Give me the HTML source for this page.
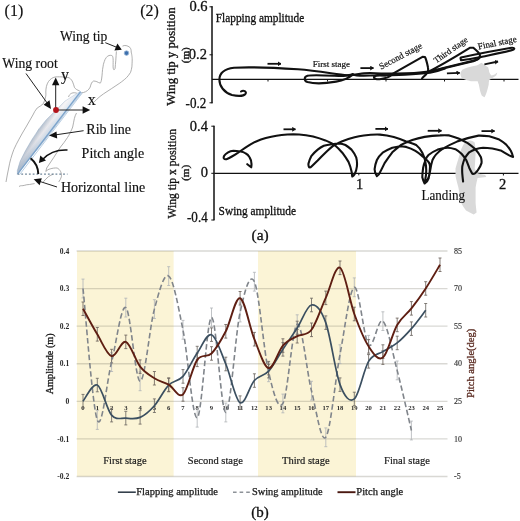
<!DOCTYPE html>
<html><head><meta charset="utf-8"><title>Figure</title>
<style>
html,body{margin:0;padding:0;background:#fff;overflow:hidden;}
svg{display:block;}
text{font-family:"Liberation Serif","Times New Roman",serif;fill:#222;}
.tk{font-size:7.6px;fill:#2a2a2a;font-weight:bold;}
.tkr{font-size:8px;fill:#333;stroke:#333;stroke-width:0.15px;}
.xt{font-size:6.6px;fill:#2a2a2a;font-weight:bold;}
.st{font-size:10.5px;fill:#1a1a1a;stroke:#1a1a1a;stroke-width:0.2px;}
.at{font-size:10.4px;fill:#1a1a1a;stroke:#1a1a1a;stroke-width:0.3px;}
.lg{font-size:9.3px;fill:#1a1a1a;stroke:#1a1a1a;stroke-width:0.25px;}
.cap{font-size:15px;fill:#111;stroke:#111;stroke-width:0.3px;}
.p1{font-size:14px;fill:#111;stroke:#111;stroke-width:0.15px;}
.p2{font-size:12px;fill:#111;stroke:#111;stroke-width:0.3px;}
.p3{font-size:14.5px;fill:#111;stroke:#111;stroke-width:0.3px;}
.sm{font-size:9px;fill:#111;stroke:#111;stroke-width:0.2px;}
</style></head><body>
<svg width="520" height="521" viewBox="0 0 520 521">
<rect width="520" height="521" fill="#fff"/>
<rect x="77" y="251" width="96.6" height="225.5" fill="#fbf4d6"/>
<rect x="258" y="251" width="98" height="225.5" fill="#fbf4d6"/>
<line x1="76.6" x2="447.5" y1="251.00" y2="251.00" stroke="rgba(120,115,100,0.28)" stroke-width="1.3"/>
<line x1="76.6" x2="447.5" y1="288.58" y2="288.58" stroke="rgba(120,115,100,0.28)" stroke-width="1.3"/>
<line x1="76.6" x2="447.5" y1="326.16" y2="326.16" stroke="rgba(120,115,100,0.28)" stroke-width="1.3"/>
<line x1="76.6" x2="447.5" y1="363.74" y2="363.74" stroke="rgba(120,115,100,0.28)" stroke-width="1.3"/>
<line x1="76.6" x2="447.5" y1="401.32" y2="401.32" stroke="rgba(120,115,100,0.28)" stroke-width="1.3"/>
<line x1="76.6" x2="447.5" y1="438.90" y2="438.90" stroke="rgba(120,115,100,0.28)" stroke-width="1.3"/>
<line x1="76.6" x2="447.5" y1="476.48" y2="476.48" stroke="rgba(120,115,100,0.28)" stroke-width="1.3"/>
<text x="69.3" y="253.60" text-anchor="end" class="tk">0.4</text>
<text x="69.3" y="291.18" text-anchor="end" class="tk">0.3</text>
<text x="69.3" y="328.76" text-anchor="end" class="tk">0.2</text>
<text x="69.3" y="366.34" text-anchor="end" class="tk">0.1</text>
<text x="69.3" y="403.92" text-anchor="end" class="tk">0</text>
<text x="69.3" y="441.50" text-anchor="end" class="tk">-0.1</text>
<text x="69.3" y="479.08" text-anchor="end" class="tk">-0.2</text>
<text x="454" y="253.60" class="tkr">85</text>
<text x="454" y="291.18" class="tkr">70</text>
<text x="454" y="328.76" class="tkr">55</text>
<text x="454" y="366.34" class="tkr">40</text>
<text x="454" y="403.92" class="tkr">25</text>
<text x="454" y="441.50" class="tkr">10</text>
<text x="454" y="479.08" class="tkr">-5</text>
<text x="83.00" y="410.3" text-anchor="middle" class="xt">0</text>
<text x="97.28" y="410.3" text-anchor="middle" class="xt">1</text>
<text x="111.56" y="410.3" text-anchor="middle" class="xt">2</text>
<text x="125.84" y="410.3" text-anchor="middle" class="xt">3</text>
<text x="140.12" y="410.3" text-anchor="middle" class="xt">4</text>
<text x="154.40" y="410.3" text-anchor="middle" class="xt">5</text>
<text x="168.68" y="410.3" text-anchor="middle" class="xt">6</text>
<text x="182.96" y="410.3" text-anchor="middle" class="xt">7</text>
<text x="197.24" y="410.3" text-anchor="middle" class="xt">8</text>
<text x="211.52" y="410.3" text-anchor="middle" class="xt">9</text>
<text x="225.80" y="410.3" text-anchor="middle" class="xt">10</text>
<text x="240.08" y="410.3" text-anchor="middle" class="xt">11</text>
<text x="254.36" y="410.3" text-anchor="middle" class="xt">12</text>
<text x="268.64" y="410.3" text-anchor="middle" class="xt">13</text>
<text x="282.92" y="410.3" text-anchor="middle" class="xt">14</text>
<text x="297.20" y="410.3" text-anchor="middle" class="xt">15</text>
<text x="311.48" y="410.3" text-anchor="middle" class="xt">16</text>
<text x="325.76" y="410.3" text-anchor="middle" class="xt">17</text>
<text x="340.04" y="410.3" text-anchor="middle" class="xt">18</text>
<text x="354.32" y="410.3" text-anchor="middle" class="xt">19</text>
<text x="368.60" y="410.3" text-anchor="middle" class="xt">20</text>
<text x="382.88" y="410.3" text-anchor="middle" class="xt">21</text>
<text x="397.16" y="410.3" text-anchor="middle" class="xt">22</text>
<text x="411.44" y="410.3" text-anchor="middle" class="xt">23</text>
<text x="425.72" y="410.3" text-anchor="middle" class="xt">24</text>
<text x="440.00" y="410.3" text-anchor="middle" class="xt">25</text>
<text x="124.9" y="464" text-anchor="middle" class="st">First stage</text>
<text x="215.4" y="464" text-anchor="middle" class="st">Second stage</text>
<text x="305.8" y="464" text-anchor="middle" class="st">Third stage</text>
<text x="407" y="464" text-anchor="middle" class="st">Final stage</text>
<g stroke="#b0b4b8" stroke-width="0.80" fill="none"><path d="M83.0,279.1V297.9M81.5,279.1h3M81.5,297.9h3"/><path d="M97.3,410.6V429.4M95.8,410.6h3M95.8,429.4h3"/><path d="M111.6,352.7V371.5M110.1,352.7h3M110.1,371.5h3"/><path d="M125.8,298.2V317.0M124.3,298.2h3M124.3,317.0h3"/><path d="M140.1,371.9V390.7M138.6,371.9h3M138.6,390.7h3"/><path d="M154.4,299.7V318.5M152.9,299.7h3M152.9,318.5h3"/><path d="M168.7,266.7V285.5M167.2,266.7h3M167.2,285.5h3"/><path d="M183.0,320.4V339.2M181.5,320.4h3M181.5,339.2h3"/><path d="M197.2,408.3V427.1M195.7,408.3h3M195.7,427.1h3"/><path d="M211.5,308.0V326.8M210.0,308.0h3M210.0,326.8h3"/><path d="M225.8,403.1V421.9M224.3,403.1h3M224.3,421.9h3"/><path d="M240.1,303.1V321.9M238.6,303.1h3M238.6,321.9h3"/><path d="M254.4,272.3V291.1M252.9,272.3h3M252.9,291.1h3"/><path d="M268.6,362.9V381.7M267.1,362.9h3M267.1,381.7h3"/><path d="M282.9,394.1V412.8M281.4,394.1h3M281.4,412.8h3"/><path d="M297.2,314.8V333.6M295.7,314.8h3M295.7,333.6h3"/><path d="M311.5,381.3V400.1M310.0,381.3h3M310.0,400.1h3"/><path d="M325.8,427.9V446.7M324.3,427.9h3M324.3,446.7h3"/><path d="M340.0,344.8V363.6M338.5,344.8h3M338.5,363.6h3"/><path d="M354.3,277.9V296.7M352.8,277.9h3M352.8,296.7h3"/><path d="M368.6,335.4V354.2M367.1,335.4h3M367.1,354.2h3"/><path d="M382.9,311.8V330.5M381.4,311.8h3M381.4,330.5h3"/><path d="M397.2,361.0V379.8M395.7,361.0h3M395.7,379.8h3"/><path d="M411.4,421.1V439.9M409.9,421.1h3M409.9,439.9h3"/></g>
<g stroke="#6f6a64" stroke-width="0.85" fill="none"><path d="M83.0,394.4V408.0M81.5,394.4h3M81.5,408.0h3"/><path d="M97.3,378.3V391.8M95.8,378.3h3M95.8,391.8h3"/><path d="M111.6,408.3V421.9M110.1,408.3h3M110.1,421.9h3"/><path d="M125.8,411.3V424.9M124.3,411.3h3M124.3,424.9h3"/><path d="M140.1,410.6V424.1M138.6,410.6h3M138.6,424.1h3"/><path d="M154.4,398.9V412.5M152.9,398.9h3M152.9,412.5h3"/><path d="M168.7,378.3V391.8M167.2,378.3h3M167.2,391.8h3"/><path d="M183.0,369.6V383.2M181.5,369.6h3M181.5,383.2h3"/><path d="M197.2,346.3V359.9M195.7,346.3h3M195.7,359.9h3"/><path d="M211.5,327.9V341.4M210.0,327.9h3M210.0,341.4h3"/><path d="M225.8,357.2V370.8M224.3,357.2h3M224.3,370.8h3"/><path d="M240.1,395.9V409.5M238.6,395.9h3M238.6,409.5h3"/><path d="M254.4,373.8V387.3M252.9,373.8h3M252.9,387.3h3"/><path d="M268.6,364.4V377.9M267.1,364.4h3M267.1,377.9h3"/><path d="M282.9,342.6V356.1M281.4,342.6h3M281.4,356.1h3"/><path d="M297.2,321.2V334.7M295.7,321.2h3M295.7,334.7h3"/><path d="M311.5,298.2V311.8M310.0,298.2h3M310.0,311.8h3"/><path d="M325.8,315.9V329.4M324.3,315.9h3M324.3,329.4h3"/><path d="M340.0,377.9V391.4M338.5,377.9h3M338.5,391.4h3"/><path d="M354.3,392.2V405.7M352.8,392.2h3M352.8,405.7h3"/><path d="M368.6,354.6V368.1M367.1,354.6h3M367.1,368.1h3"/><path d="M382.9,344.8V358.4M381.4,344.8h3M381.4,358.4h3"/><path d="M397.2,336.2V349.7M395.7,336.2h3M395.7,349.7h3"/><path d="M411.4,321.9V335.4M409.9,321.9h3M409.9,335.4h3"/><path d="M425.7,303.5V317.0M424.2,303.5h3M424.2,317.0h3"/></g>
<g stroke="#6f665e" stroke-width="0.85" fill="none"><path d="M83.0,302.0V315.5M81.5,302.0h3M81.5,315.5h3"/><path d="M97.3,327.5V341.1M95.8,327.5h3M95.8,341.1h3"/><path d="M111.6,349.3V362.9M110.1,349.3h3M110.1,362.9h3"/><path d="M125.8,335.1V348.6M124.3,335.1h3M124.3,348.6h3"/><path d="M140.1,359.9V373.4M138.6,359.9h3M138.6,373.4h3"/><path d="M154.4,371.5V385.0M152.9,371.5h3M152.9,385.0h3"/><path d="M168.7,377.9V391.4M167.2,377.9h3M167.2,391.4h3"/><path d="M183.0,387.7V401.2M181.5,387.7h3M181.5,401.2h3"/><path d="M197.2,353.1V366.6M195.7,353.1h3M195.7,366.6h3"/><path d="M211.5,346.7V360.2M210.0,346.7h3M210.0,360.2h3"/><path d="M225.8,324.5V338.1M224.3,324.5h3M224.3,338.1h3"/><path d="M240.1,291.5V305.0M238.6,291.5h3M238.6,305.0h3"/><path d="M254.4,332.4V346.0M252.9,332.4h3M252.9,346.0h3"/><path d="M268.6,361.4V374.9M267.1,361.4h3M267.1,374.9h3"/><path d="M282.9,338.8V352.3M281.4,338.8h3M281.4,352.3h3"/><path d="M297.2,329.4V343.0M295.7,329.4h3M295.7,343.0h3"/><path d="M311.5,323.0V336.6M310.0,323.0h3M310.0,336.6h3"/><path d="M325.8,291.1V304.6M324.3,291.1h3M324.3,304.6h3"/><path d="M340.0,261.0V274.6M338.5,261.0h3M338.5,274.6h3"/><path d="M354.3,307.2V320.8M352.8,307.2h3M352.8,320.8h3"/><path d="M368.6,339.6V353.1M367.1,339.6h3M367.1,353.1h3"/><path d="M382.9,350.8V364.4M381.4,350.8h3M381.4,364.4h3"/><path d="M397.2,318.1V331.7M395.7,318.1h3M395.7,331.7h3"/><path d="M411.4,301.6V315.1M409.9,301.6h3M409.9,315.1h3"/><path d="M425.7,281.7V295.2M424.2,281.7h3M424.2,295.2h3"/><path d="M440.0,258.0V271.5M438.5,258.0h3M438.5,271.5h3"/></g>
<path d="M83.00,288.46 C85.38,310.38 92.52,407.71 97.28,419.99 C102.04,432.27 106.80,380.84 111.56,362.12 C116.32,343.39 121.08,304.43 125.84,307.63 C130.60,310.82 135.36,381.03 140.12,381.28 C144.88,381.53 149.64,326.67 154.40,309.13 C159.16,291.59 163.92,272.61 168.68,276.06 C173.44,279.50 178.20,306.19 182.96,329.80 C187.72,353.41 192.48,419.80 197.24,417.74 C202.00,415.67 206.76,318.27 211.52,317.40 C216.28,316.52 221.04,413.29 225.80,412.47 C230.56,411.66 235.32,334.31 240.08,312.51 C244.84,290.71 249.60,271.74 254.36,281.70 C259.12,291.65 263.88,351.97 268.64,372.26 C273.40,392.56 278.16,411.47 282.92,403.45 C287.68,395.44 292.44,326.29 297.20,324.16 C301.96,322.03 306.72,371.82 311.48,390.68 C316.24,409.53 321.00,443.35 325.76,437.28 C330.52,431.20 335.28,379.22 340.04,354.22 C344.80,329.23 349.56,288.90 354.32,287.33 C359.08,285.77 363.84,339.19 368.60,344.83 C373.36,350.47 378.12,316.90 382.88,321.15 C387.64,325.41 392.40,352.16 397.16,370.38 C401.92,388.61 409.06,420.49 411.44,430.51" fill="none" stroke="#80858b" stroke-width="1.6" stroke-dasharray="5.5,2.8"/>
<path d="M83.00,401.20 C85.38,398.51 92.52,382.72 97.28,385.04 C102.04,387.36 106.80,409.59 111.56,415.10 C116.32,420.62 121.08,417.74 125.84,418.11 C130.60,418.49 135.36,419.43 140.12,417.36 C144.88,415.29 149.64,411.10 154.40,405.71 C159.16,400.32 163.92,389.93 168.68,385.04 C173.44,380.16 178.20,381.72 182.96,376.40 C187.72,371.07 192.48,360.05 197.24,353.10 C202.00,346.15 206.76,332.87 211.52,334.68 C216.28,336.50 221.04,352.66 225.80,364.00 C230.56,375.33 235.32,399.95 240.08,402.70 C244.84,405.46 249.60,385.79 254.36,380.53 C259.12,375.27 263.88,376.33 268.64,371.14 C273.40,365.94 278.16,356.54 282.92,349.34 C287.68,342.14 292.44,335.31 297.20,327.92 C301.96,320.53 306.72,305.87 311.48,305.00 C316.24,304.12 321.00,309.38 325.76,322.66 C330.52,335.94 335.28,371.95 340.04,384.66 C344.80,397.38 349.56,402.83 354.32,398.95 C359.08,395.06 363.84,369.26 368.60,361.37 C373.36,353.47 378.12,354.66 382.88,351.59 C387.64,348.53 392.40,346.77 397.16,342.95 C401.92,339.13 406.68,334.12 411.44,328.67 C416.20,323.22 423.34,313.33 425.72,310.26" fill="none" stroke="#3b4f60" stroke-width="1.7"/>
<path d="M83.00,308.75 C85.38,313.01 92.52,326.42 97.28,334.31 C102.04,342.20 106.80,354.85 111.56,356.10 C116.32,357.36 121.08,340.07 125.84,341.82 C130.60,343.58 135.36,360.55 140.12,366.63 C144.88,372.70 149.64,375.27 154.40,378.28 C159.16,381.28 163.92,381.97 168.68,384.66 C173.44,387.36 178.20,398.57 182.96,394.44 C187.72,390.30 192.48,366.69 197.24,359.86 C202.00,353.03 206.76,358.23 211.52,353.47 C216.28,348.71 221.04,340.51 225.80,331.30 C230.56,322.09 235.32,296.92 240.08,298.23 C244.84,299.55 249.60,327.54 254.36,339.19 C259.12,350.84 263.88,367.06 268.64,368.13 C273.40,369.19 278.16,350.91 282.92,345.58 C287.68,340.26 292.44,338.82 297.20,336.19 C301.96,333.56 306.72,336.19 311.48,329.80 C316.24,323.41 321.00,308.19 325.76,297.85 C330.52,287.52 335.28,265.10 340.04,267.79 C344.80,270.48 349.56,300.92 354.32,314.01 C359.08,327.10 363.84,339.07 368.60,346.33 C373.36,353.60 378.12,361.18 382.88,357.61 C387.64,354.04 392.40,333.12 397.16,324.91 C401.92,316.71 406.68,314.45 411.44,308.38 C416.20,302.30 420.96,295.73 425.72,288.46 C430.48,281.19 437.62,268.73 440.00,264.78" fill="none" stroke="#5e1e12" stroke-width="1.9"/>
<text transform="translate(52.6,363.8) rotate(-90)" text-anchor="middle" class="at" textLength="61" lengthAdjust="spacingAndGlyphs">Amplitude (m)</text>
<text transform="translate(474.3,363.3) rotate(-90)" text-anchor="middle" class="at" style="fill:#5a2a20;stroke:#5a2a20" textLength="69.2" lengthAdjust="spacingAndGlyphs">Pitch angle(deg)</text>
<line x1="117.9" x2="135.8" y1="492.2" y2="492.2" stroke="#34404c" stroke-width="1.6"/>
<text x="136.3" y="494.6" class="lg" textLength="81.7" lengthAdjust="spacingAndGlyphs">Flapping amplitude</text>
<line x1="233" x2="250" y1="492.2" y2="492.2" stroke="#8d9298" stroke-width="1.4" stroke-dasharray="3.6,3"/>
<text x="252" y="494.6" class="lg" textLength="70.5" lengthAdjust="spacingAndGlyphs">Swing amplitude</text>
<line x1="337.5" x2="355.5" y1="492.2" y2="492.2" stroke="#4a1810" stroke-width="1.9"/>
<text x="356.3" y="494.6" class="lg" textLength="47" lengthAdjust="spacingAndGlyphs">Pitch angle</text>
<text x="260" y="517" text-anchor="middle" class="cap">(b)</text>
<g id="p1">
<defs>
<linearGradient id="wg" x1="39.1" y1="128.7" x2="48.3" y2="135.7" gradientUnits="userSpaceOnUse">
<stop offset="0" stop-color="#b4c0ce"/>
<stop offset="0.45" stop-color="#f4f1f3"/>
<stop offset="0.8" stop-color="#d9e3ee"/>
<stop offset="1" stop-color="#a9c2dc"/>
</linearGradient>
<linearGradient id="wg2" x1="62" y1="108" x2="22" y2="168" gradientUnits="userSpaceOnUse">
<stop offset="0" stop-color="#ffffff" stop-opacity="0.25"/>
<stop offset="0.5" stop-color="#8a9cb2" stop-opacity="0.12"/>
<stop offset="1" stop-color="#7088a4" stop-opacity="0.45"/>
</linearGradient>
</defs>
<text x="4.6" y="15.9" class="p1" style="font-size:16px">(1)</text>
<!-- outline -->
<g fill="none" stroke="#9a9a9a" stroke-width="0.8">
<path d="M122.5,46.1 C124.5,45 127.5,45.4 129.9,47.4 C131,49 131.2,50 131.2,52.1 C132,55 132.2,58.8 132.2,58.8 C132.2,62 132,64.5 131.9,66.9 C131.5,69 131.2,70.5 130.6,72.3 C129.3,74.5 128,76 126.5,77.7 C124,80 122,81.5 119.8,83.1 C117,85 114.5,86.8 111.7,88.5 C109,90.2 106.3,92 103.6,93.8 C101,95.6 98.7,97.4 96.9,99.2 L94.2,101.9"/>
<path d="M116.4,51.4 C116.2,54 116,57 115.8,60.2 C115.5,63 115.4,66 115.1,68.3 C114.8,69.5 114,70 113.7,69.6 C113.2,68.8 113.1,67.5 113.1,66.9 C113.1,64 113.2,61 113.1,58.8 C112.9,56.8 112.5,55.6 111.7,55.5 C110.8,55.3 109.8,55.2 109,55.5 C107.8,56 106.8,56.6 106.3,57.5 C105.2,59 104.6,60.2 104.3,61.5 C103.5,63.5 103.2,65 103,66.9 C102.6,68.8 102.4,70.5 102.3,72.3 C102.1,75 101.9,77 101.6,79 C101.3,81 100.9,82.2 100.3,83.1 C99,83 98,82.2 96.9,81.7 C95.6,81.2 94.5,81 93.6,81 C92.6,81.5 92,82.2 91.5,83.1 C90.8,84.5 90.6,85.8 90.2,87.1 C89.4,88.7 88.5,89.7 87.5,90.5 C86.2,91.5 85,92.1 83.5,92.5 C82,92.8 80.8,92.7 79.4,92.5"/>
<path d="M45.8,92 C45.9,88 46.5,84.5 48.5,81.5 C50.3,79 52.5,77.6 55,77 C56.5,76.8 58,76.8 59.5,76.8 L62.3,76.9 C65,77 67.5,77.2 69.2,77.8 C71,79 72,80.5 72.7,82.1 C73.5,84 74,85.8 74.4,87.3 C75.5,89.2 77.5,90.2 79.6,90.8"/>
<path d="M45.8,92 C45.9,93.5 46,94.8 45.8,96 C45.2,98.8 44.5,101.3 43.3,103.7 C41.5,105.5 39.3,106.6 37.2,108 C35.5,110 34,112.5 32.9,115 C30.5,119 28.3,123 26,127 C23.5,131 21.3,135 19,139.2 C17.2,142.5 15.4,146 13.8,149.6 C11.6,155.5 9.8,161.5 8.7,168 C7.7,172.5 6.8,177.5 6,182"/>
<path d="M68.5,97 C69.5,93.5 73,91.6 77.5,93.5"/>
<path d="M76.5,113 C75.5,115 74.8,116.5 74.4,118.4 C73.8,121.5 73.2,124.2 72.7,127 C71.2,131 69.5,134.5 67.5,137.5 C65.5,140.8 63,143.8 60.5,147 C58.2,150.5 55.9,154.2 53.6,157.7 C51.3,161.2 49,164.6 46.7,168 L45.8,171.5"/>
<path d="M45.8,171.5 C47.2,170 48.7,169.2 50.2,168.9 C52.5,168.2 54.8,167.8 57.1,168 C58.6,168.6 59.8,170 60.6,171.5 C61.4,173.2 61.6,175 61.4,176.7 C60.8,178.6 60,180.3 58.8,181.9"/>
<path d="M43.3,181.9 C45,180 46.6,178.2 48.4,176.7 C50,175.5 51.8,174.7 53.6,174.1"/>
<path d="M19,186.5 C20.5,185.2 22.5,186 24.2,185.4 C26,184.8 27.6,184.5 29.4,184.5 C31.2,184.2 33,183.8 34.6,183.6"/>
<path d="M39.1,128.7 C36.5,134 34.2,139.5 31.9,145.1 C30.5,148 29,150.5 27.3,152.4" stroke="#aab4c0"/>
</g>
<!-- wing blade -->
<path d="M79.6,91.8 C74.5,95 69.5,98.2 64.6,101.4 C61.5,104.4 58.5,107.5 55.5,110.5 C52.5,113.5 49.4,116.6 46.4,119.6 C44,122.6 41.5,125.7 39.1,128.7 C36.7,132.3 34.3,136 31.9,139.6 C29.8,143.3 27.6,146.9 25.5,150.6 C23.6,154.2 21.8,157.9 20,161.5 C19,164.5 18.2,167.6 17.3,170.6 L17.3,174.3 C18.5,172.8 19.7,171.2 20.9,169.7 C23,167 25.2,164.2 27.3,161.5 C30,158.2 32.8,154.8 35.5,151.5 C38.5,147.9 41.6,144.2 44.6,140.6 C47.6,136.6 50.7,132.7 53.7,128.7 C56.7,124.8 59.8,120.8 62.8,116.9 C65.8,112.9 68.9,109 71.9,105 C75.3,101 78.6,97 82,93.2 C81.5,92.4 80.6,91.8 79.6,91.8 Z" fill="url(#wg)" stroke="#a9bdd2" stroke-width="0.5"/>
<path d="M79.6,91.8 C74.5,95 69.5,98.2 64.6,101.4 C61.5,104.4 58.5,107.5 55.5,110.5 C52.5,113.5 49.4,116.6 46.4,119.6 C44,122.6 41.5,125.7 39.1,128.7 C36.7,132.3 34.3,136 31.9,139.6 C29.8,143.3 27.6,146.9 25.5,150.6 C23.6,154.2 21.8,157.9 20,161.5 C19,164.5 18.2,167.6 17.3,170.6 L17.3,174.3 C18.5,172.8 19.7,171.2 20.9,169.7 C23,167 25.2,164.2 27.3,161.5 C30,158.2 32.8,154.8 35.5,151.5 C38.5,147.9 41.6,144.2 44.6,140.6 C47.6,136.6 50.7,132.7 53.7,128.7 C56.7,124.8 59.8,120.8 62.8,116.9 C65.8,112.9 68.9,109 71.9,105 C75.3,101 78.6,97 82,93.2 C81.5,92.4 80.6,91.8 79.6,91.8 Z" fill="url(#wg2)"/>
<line x1="82.4" y1="92.8" x2="19.6" y2="174.6" stroke="#b9cfe4" stroke-width="1"/>
<line x1="80.6" y1="91.6" x2="17.8" y2="173.8" stroke="#79a2cb" stroke-width="1.2"/>
<!-- dotted horizontal -->
<line x1="17.5" y1="174.2" x2="67.5" y2="174.2" stroke="#6d8498" stroke-width="1.2" stroke-dasharray="1.8,2"/>
<!-- pitch arc -->
<path d="M30.6,158.2 A21,21 0 0 1 38.3,174" fill="none" stroke="#111" stroke-width="2"/>
<!-- axes arrows -->
<g stroke="#222" stroke-width="1">
<line x1="55.7" y1="110" x2="55.7" y2="84"/>
<line x1="55.7" y1="110" x2="83" y2="110"/>
<line x1="26" y1="73.5" x2="47.5" y2="103.5"/>
<line x1="105.3" y1="42.7" x2="116" y2="47"/>
<line x1="83.6" y1="130.7" x2="56" y2="134.8"/>
<line x1="57" y1="187" x2="40" y2="181.5"/>
</g>
<g fill="#111">
<path d="M55.7,77.6 L59.4,85.2 L52,85.2 Z"/>
<path d="M90.2,110 L82.6,113.7 L82.6,106.3 Z"/>
<path d="M51,109 L43.6,104.8 L49.5,100.3 Z"/>
<path d="M121.8,49.7 L114.4,50.6 L117.4,43.6 Z"/>
<path d="M49,135.6 L56.5,131.4 L57.2,138.6 Z"/>
<path d="M33.7,179.3 L41.8,178.2 L39.6,185.2 Z"/>
</g>
<path d="M67.5,150 C58,149.5 49,152.5 42.5,159.5" fill="none" stroke="#111" stroke-width="1.6"/>
<path d="M38.9,162.9 L40.3,155.6 L46,160.4 Z" fill="#111"/>
<circle cx="56" cy="110" r="2.9" fill="#b3141b"/>
<circle cx="126.5" cy="53.1" r="2.3" fill="#3e70ad" stroke="#9cb9d8" stroke-width="0.8"/>
<text x="60" y="41.3" class="p1" textLength="47.3" lengthAdjust="spacingAndGlyphs">Wing tip</text>
<text x="2.3" y="67.8" class="p1" textLength="55.4" lengthAdjust="spacingAndGlyphs">Wing root</text>
<text x="61" y="80.2" class="p1" style="font-size:16px">y</text>
<text x="87.8" y="105.4" class="p1" style="font-size:16px">x</text>
<text x="86.3" y="133.5" class="p1">Rib line</text>
<text x="81.6" y="158.3" class="p1">Pitch angle</text>
<text x="60.9" y="191.5" class="p1">Horizontal line</text>
</g>

<g id="p2">
<defs>
<marker id="ah" viewBox="0 0 10 10" refX="9" refY="5" markerWidth="3.6" markerHeight="5" orient="auto" markerUnits="userSpaceOnUse" preserveAspectRatio="none">
<path d="M0,0 L10,5 L0,10 Z" fill="#111"/>
</marker>
</defs>
<text x="140.2" y="15.9" class="p1" style="font-size:16px">(2)</text>
<!-- top plot axes -->
<g stroke="#111" stroke-width="1" fill="none">
<line x1="212" y1="6.3" x2="212" y2="103.3" stroke-width="1.5"/>
<line x1="209.5" y1="6.8" x2="212.5" y2="6.8"/>
<line x1="209.5" y1="54.8" x2="212.5" y2="54.8"/>
<line x1="209.5" y1="102.8" x2="212.5" y2="102.8"/>
<line x1="212" y1="79.4" x2="518.5" y2="79.4" stroke-width="1.15"/>
<path d="M268,79v2.5M327.5,79v2.5M386,79v2.5M444.5,79v2.5M504,79v2.5"/>
</g>
<text x="207.6" y="11.3" text-anchor="end" class="p3">0.6</text>
<text x="206.9" y="59.2" text-anchor="end" class="p3">0.2</text>
<text x="206.3" y="107.8" text-anchor="end" class="p3" textLength="20.7" lengthAdjust="spacingAndGlyphs">-0.2</text>
<text transform="translate(175.3,56.6) rotate(-90)" text-anchor="middle" class="p2" textLength="98.5" lengthAdjust="spacingAndGlyphs">Wing tip y position</text>
<text transform="translate(188.7,55.2) rotate(-90)" text-anchor="middle" class="p2" style="font-size:11px">(m)</text>
<text x="215.8" y="22.4" class="p2" style="font-size:12.8px" textLength="88.4" lengthAdjust="spacingAndGlyphs">Flapping amplitude</text>
<text x="312.7" y="67" class="sm">First stage</text>
<text transform="translate(381,69.8) rotate(-28)" class="sm">Second stage</text>
<text transform="translate(436.2,63.6) rotate(-35)" class="sm" style="font-size:8.7px">Third stage</text>
<text transform="translate(478.6,49.6) rotate(-11.5)" class="sm">Final stage</text>
<!-- top curves -->
<g fill="none" stroke="#111" stroke-width="2.1" stroke-linejoin="round" stroke-linecap="round">
<path d="M241,91.5 C243.5,89.8 247,91.5 245.5,93.8 C243.5,96.3 237,96.2 232,95 C224,92.5 219.3,86 219.4,79.5 C219.5,73 224,68.9 234,67.7 C250,66.8 272,67.6 298,69.3 C318,70.8 337,74.4 347,75.2 C354,75.6 358,74 364,73.2 C370,72.8 375,73 381,73.5 C392,74 405,73.2 414,73 C420,72.9 425,72 429,71.5"/>
<path d="M353,74 C349,76.3 341,76 333.5,75.8 C323,75.3 312,74.8 307.5,75.8 C303.8,77 303.8,80.8 307.5,82 C314,83.8 327,83.2 336,81.6 C344,80.2 349,78 353,74.5 C356,76 362,75.8 370,75.5 C380,75.3 395,75 405,74.6 C415,74.2 422,73.8 430,72.8 C436,71.8 441,70 445,68.5"/>
<path d="M385,75.5 C380,74.5 375.5,75 374,77 C373.5,79 377,79.5 381,79 C386,78.3 390,76.5 392,74.5"/>
<path d="M391.2,74.6 L422.5,56.9 L425,57 C426.5,60 427.3,64 428,67.5 C428.7,70.5 427,74 424,76.3 C423,77.3 422.3,78 422,78.6"/>
<path d="M425,73.4 C440,66 455,57 469.8,47.8 L473.4,47.8 C476,50 479,52.5 479.8,54.5 C480.5,57 479,59 476,60 C466,62.5 455,65 443.3,67.9 C435,70 430,72 425,73.4"/>
<path d="M433,71 C445,68 460,64.5 470,62 C475,61 478,59.5 480,57"/>
<path d="M461,57.5 C475,54.5 495,50.5 510,48 C514.5,47.3 515.2,48.8 513,49.8 C507,52 490,55 478,57.5 C470,59 465,60 461,60.3 L460.5,58"/>
</g>
<!-- gray bird top -->
<path d="M460.4,73.1 C461,71.5 461.8,70.3 462.7,69.6 C464.5,68.5 466.5,67.8 468.5,67.3 C471.2,66.7 474,66.2 476.5,65.6 C478.5,64.8 480,63.5 481.2,62.7 C482.5,63.2 483.6,64 484.6,65 C485.8,65.8 487,66.5 488.1,67.3 C488.7,68.8 489,70.3 489.2,71.9 C489.8,73.2 490.5,74.5 491.5,75.4 C492.7,75.2 494,74.7 495,74.2 C495.8,73.6 496.6,73 497.3,72.5 C497,73.5 496.8,74.5 496.2,75.4 C495,76.3 493.8,77 492.7,77.7 C491.5,78.5 490.3,79.2 489.2,80 C488.8,81.5 488.8,83 488.7,84.6 C488.2,87 487.6,89.3 486.9,91.5 C486.2,93.5 485.5,95.5 484.6,97.3 C483.5,96.8 482.5,96.3 481.7,95.6 C481,93.8 480.5,92.2 480,90.4 C479.6,88.5 479.2,86.5 478.8,84.6 C478.4,83.5 478,82.3 477.7,81.2 C475.4,81.2 473.1,81.2 470.8,81.2 C469.3,80.8 467.7,80.4 466.2,80 C464.6,79.2 463,78.5 461.5,77.7 C461,76.5 460.6,75.3 460.4,74.2 Z" fill="#d9d9d9"/>
<!-- arrows top -->
<g stroke="#111" stroke-width="1.8" marker-end="url(#ah)">
<line x1="267.5" y1="63.8" x2="281" y2="63.8"/>
<line x1="360.4" y1="68.1" x2="373.5" y2="68.1"/>
<line x1="446.9" y1="73.4" x2="459.7" y2="72.9"/>
<line x1="484.4" y1="64.3" x2="498.1" y2="61.5"/>
</g>

<!-- bottom plot axes -->
<g stroke="#111" stroke-width="1" fill="none">
<line x1="214" y1="125.7" x2="214" y2="220.3" stroke-width="1.5"/>
<line x1="211.3" y1="126.2" x2="214.3" y2="126.2"/>
<line x1="211.3" y1="173.3" x2="214.3" y2="173.3"/>
<line x1="211.3" y1="220" x2="214.3" y2="220"/>
<line x1="214.3" y1="173.4" x2="518.5" y2="173.4" stroke-width="1.15"/>
<path d="M358.8,173.3v2M503.4,173.3v2.2"/>
</g>
<text x="207.9" y="131.3" text-anchor="end" class="p3">0.4</text>
<text x="208" y="177.4" text-anchor="end" class="p3">0</text>
<text x="207.7" y="221.5" text-anchor="end" class="p3" textLength="20.7" lengthAdjust="spacingAndGlyphs">-0.4</text>
<text transform="translate(175.9,173.7) rotate(-90)" text-anchor="middle" class="p2" textLength="89.5" lengthAdjust="spacingAndGlyphs">Wing tip x position</text>
<text transform="translate(189.2,172.9) rotate(-90)" text-anchor="middle" class="p2" style="font-size:11px">(m)</text>
<text x="218.6" y="214.6" class="p2" style="font-size:12.8px" textLength="77.4" lengthAdjust="spacingAndGlyphs">Swing amplitude</text>
<text x="359.5" y="188.8" text-anchor="middle" class="p3">1</text>
<text x="502.7" y="188.7" text-anchor="middle" class="p3">2</text>
<!-- gray bird bottom -->
<path d="M464.1,143.4 C466,141.8 468.5,140.8 470.8,140.6 C472.3,141 473.6,141.7 474.7,142.5 C475.3,146 475.6,149.5 475.6,153 C475.4,158.2 475,163.3 474.7,168.4 C475.6,170.2 476.5,171.8 477.6,173.2 C480.2,173.8 482.7,174.4 485.2,175.1 C485.6,175.7 485.9,176.3 486.2,177 C483.3,177.4 480.5,177.7 477.6,178 C476.8,181.2 476.1,184.4 475.6,187.6 C475.6,192.7 475.6,197.8 475.6,202.9 C475.9,206.1 476.2,209.3 476.6,212.5 C475.6,213.2 474.7,213.8 473.7,214.4 C471.1,213.2 468.5,211.9 466,210.6 C464.3,208.1 462.7,205.5 461.2,202.9 C460.2,197.8 459.3,192.7 458.4,187.6 C457.3,183.7 456.3,179.9 455.5,176 L455.5,168.4 C456.4,165.2 457.4,162 458.4,158.8 C459.3,155.6 460.2,152.4 461.2,149.2 C462.1,147.2 463.1,145.3 464.1,143.4 Z" fill="#d9d9d9"/>
<text x="421.5" y="199.6" class="p1" style="font-size:14px" textLength="43.6" lengthAdjust="spacingAndGlyphs">Landing</text>
<!-- bottom curves -->
<path fill="none" stroke="#111" stroke-width="2.1" stroke-linejoin="round" stroke-linecap="round" d="M247.3,164.2 L251.2,167.3 C251.6,165 251.4,160 249.6,157.3 C248.5,155.5 247.5,154.3 245.8,153.5 C244,152.2 242.3,151.7 240.4,151.5 C238,151.1 235.8,150.8 233.5,150.8 C231.5,151 229.6,151.5 228.1,152.4 C226.5,153.4 225,154.5 224.2,155.8 C223.7,156.8 223.5,157.8 223.9,158.5 C224.4,159.2 225.5,159.4 226.5,159.2 C228.5,158.5 230.2,157.6 231.9,156.5 C234,155.3 236.1,154.1 238.1,152.7 C240.7,150.9 243.2,149.1 245.8,147.3 C248.8,145.4 251.9,143.6 255,141.9 C258.6,140.5 262.1,139.2 265.8,138.1 C269.3,137.2 272.9,136.4 276.5,135.8 C280.1,135.2 283.7,134.8 287.3,134.5 C291.3,134.3 295.2,134.3 299.2,134.5 C303.8,134.9 308.5,135.6 313.1,136.5 C317.2,137.6 321.4,138.9 325.4,140.4 C328.6,141.7 331.7,143.2 334.6,145 C337.3,147.3 339.9,149.9 342.3,152.7 C344.5,155.7 346.6,158.7 348.5,161.9 C349.8,164.9 350.8,168 351.5,171.2 C351.9,172.9 352,175 352.3,176.5 C353.2,176 354,175.3 354.6,174.2 C355.9,171.7 356.6,169.1 356.9,166.5 C357.2,163.4 357,160.3 356.2,157.3 C355,154.5 353.4,151.9 351.5,149.6 C349.6,147.9 347.6,146.3 345.4,145 C343.4,144.1 341.3,143.6 339.2,143.5 C336.6,143.5 334.1,143.8 331.5,144.2 C328.9,144.6 326.3,145.1 323.8,145.8 C321.7,146.8 319.6,148.1 317.7,149.6 C315.4,151.5 313.3,153.6 311.5,155.8 C310.2,158.3 309.1,160.8 308.5,163.5 C308.3,164.8 308.5,166.3 309.2,167.3 C310,167.5 310.8,167.2 311.5,166.5 C313.6,164.5 315.6,162.4 317.7,160.4 C320.2,157.8 322.8,155.2 325.4,152.7 C327.9,150.3 330.4,147.9 333.1,145.8 C336.1,144 339.2,142.5 342.3,141.2 C346.3,139.7 350.4,138.4 354.6,137.3 C357.6,136.6 360.7,136 363.8,135.5 C369,134.8 374.8,134.4 380,134.6 C384.6,135 389.3,135.8 393.8,136.9 C398,138.1 402.2,139.6 406.2,141.5 C409.7,142.8 413.2,143.5 416.2,145 C418.9,147.2 420.9,149.8 422.3,152.7 C423.8,155.7 424.9,158.8 425.4,161.9 C426,165 426.3,168.1 426.2,171.2 C426.2,173.8 425.9,176.3 425.4,178.8 C425.2,180.4 424.9,182 424.6,183.5 C426.5,182.5 427.9,180.8 428.6,178.5 C429.5,174.5 430,170.5 430,166.5 C430,162.8 427.6,160.2 424.6,158.3 C423.5,157.3 422.6,156.3 421.5,155.4 C419.5,153.6 417.5,152.1 415.4,150.8 C412.4,149 409.3,147.7 406.2,146.9 C404.1,146.5 402.1,146.2 400,146.2 C397.4,146.6 394.9,147.1 392.3,147.7 C389.1,149 386,150.6 383.1,152.3 C380.6,154.6 378.3,157.2 376.9,160 C375.7,163 374.9,166.1 374.6,169.2 C374.6,171.8 375.5,174.1 376.9,176.2 C378.3,175.4 379.3,174 380,172.3 C381.6,169.3 383.1,166.2 384.6,163.1 C387,159.5 389.6,155.8 392.3,152.3 C395.3,149.6 398.4,147 401.5,144.6 C405,142.9 408.6,141.3 412.3,140 C416.4,138.8 420.5,137.8 424.6,136.9 C429.7,136.1 434.9,135.6 440,135.4 C443.1,135.2 446.1,135.2 449.2,135.4 C452.3,136.3 455.4,137.3 458.5,138.5 C461.6,139.9 464.7,141.5 467.7,143.1 C470.4,145 473,147 475.4,149.2 C477.5,151.6 479.4,154.2 480.8,156.9 C481.5,159 481.8,161 481.5,163.1 C480.8,165.3 479.8,167.3 478.5,169.2 C477.6,170.7 476.5,172 475.4,173.1 C474.4,173.7 473.4,174 472.3,173.8 C471.2,171.8 470.2,169.8 469.2,167.7 C468.2,165.1 467.3,162.5 466.2,160 C464.8,157.8 463.2,155.7 461.5,153.8 C459.6,152 457.6,150.4 455.4,149.2 C452.9,148.4 450.3,147.7 447.7,147.7 C444.3,147.7 441.1,148.4 437.7,149.6 C434.3,151 431,152.8 428.5,155 C426.8,156.7 425.9,158.5 425.4,160.4 C424.3,162.9 423.6,165.4 423.1,168 C422.7,171.1 422.3,174.2 422.3,177.3 C422.8,179.5 423.6,181.5 424.6,183.5 C426.8,181.5 428.6,178.5 429.4,175 C430.3,170.5 430.8,165 432.5,160 C434.5,155.5 438,152 442.5,149 C447.5,146 452,143.6 457,141.6 C464,139 471,137 478.5,135.6 C482.1,135.5 485.6,135.8 489.2,136.2 C492.3,137 495.5,138 498.5,139.2 C501.2,140.8 503.8,142.6 506.2,144.6 C507.9,146.6 509.5,148.7 510.8,150.8 C511.8,152.8 512.6,154.9 513.1,156.9 C511.8,156.6 510.5,156.1 509.2,155.4 C506.6,153.9 504.1,152.4 501.5,150.8 C498.5,149.9 495.4,149.1 492.3,148.5 C489.2,148.1 486.2,147.8 483.1,147.7 C480.5,148 478,148.5 475.4,149.2 C473.3,150.1 471.2,151.1 469.2,152.3 C467.5,154.3 466,156.3 464.6,158.5 C463.7,161 462.9,163.6 462.3,166.2 C462.1,168.7 462.1,171.3 462.3,173.8 C462.5,176.4 462.8,179 463.1,181.5"/>
<g stroke="#111" stroke-width="1.8" marker-end="url(#ah)">
<line x1="283.5" y1="129.3" x2="295.5" y2="129.3"/>
<line x1="375.4" y1="128.9" x2="388" y2="128.9"/>
<line x1="427.7" y1="130.8" x2="441.5" y2="130.8"/>
<line x1="481.5" y1="131.1" x2="494.6" y2="131.1"/>
</g>
<text x="260.1" y="239.9" text-anchor="middle" class="cap" style="font-size:15.5px">(a)</text>
</g>

</svg>
</body></html>
